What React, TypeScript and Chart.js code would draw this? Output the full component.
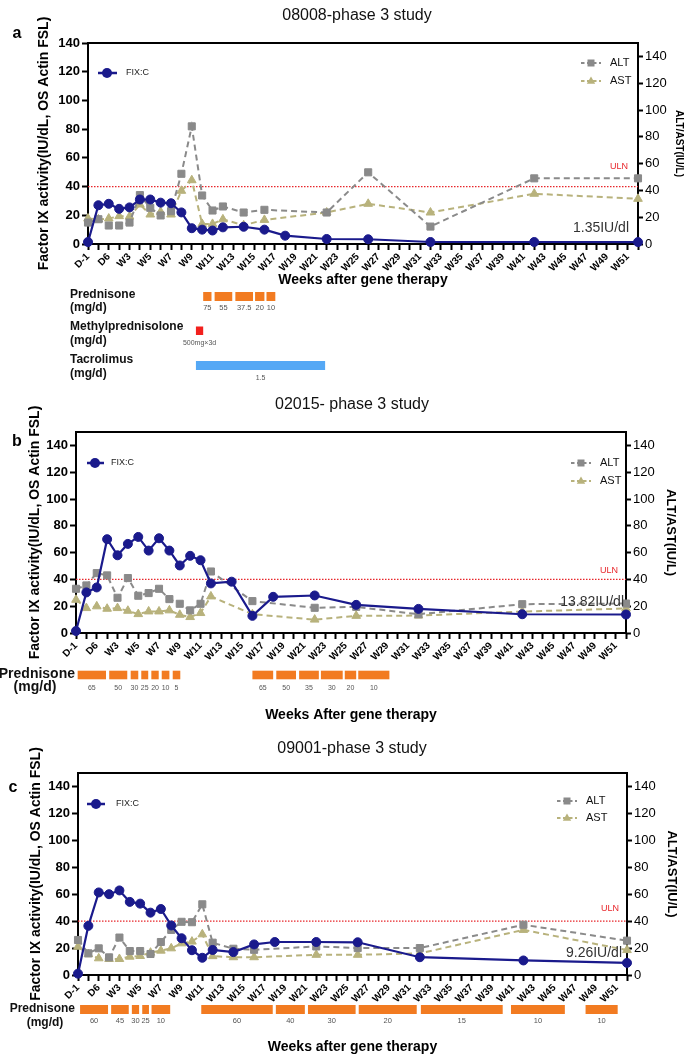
import React, { useEffect, useRef } from 'react';
import { Chart, registerables } from 'chart.js';

Chart.register(...registerables);

const FONT = "'Liberation Sans', Arial, Helvetica, sans-serif";
const NAVY = '#1a1a8c';
const GRAY = '#8a8a8a';
const TAN = '#b8b27c';
const ULN_RED = '#e8262b';
const ORANGE = '#f27b21';
const MP_RED = '#f2201d';
const BLUE = '#55a8f5';

// x-axis: index positions 0..53, labels on every other tick
const X_LABELS = ['D-1', '', 'D6', '', 'W3', '', 'W5', '', 'W7', '', 'W9', '', 'W11', '', 'W13', '', 'W15', '', 'W17', '', 'W19', '', 'W21', '', 'W23', '', 'W25', '', 'W27', '', 'W29', '', 'W31', '', 'W33', '', 'W35', '', 'W37', '', 'W39', '', 'W41', '', 'W43', '', 'W45', '', 'W47', '', 'W49', '', 'W51', ''];
const Y_TICKS = [0, 20, 40, 60, 80, 100, 120, 140];
const ULN_X = [0, 53];
const ULN_Y = [40, 40];

// ---- Panel a : 08008 ----
const A_FIX_X = [0, 1, 2, 3, 4, 5, 6, 7, 8, 9, 10, 11, 12, 13, 15, 17, 19, 23, 27, 33, 43, 53];
const A_FIX_Y = [1.4, 27, 28, 24.5, 25.5, 31, 31, 28.8, 28.4, 22, 11, 10, 9.4, 11.6, 12, 10, 5.8, 3.5, 3.3, 1.4, 1.4, 1.35];
const A_LIV_X = [0, 1, 2, 3, 4, 5, 6, 7, 8, 9, 10, 11, 12, 13, 15, 17, 23, 27, 33, 43, 53];
const A_ALT_Y = [16, 18.5, 13.8, 13.8, 16, 36.5, 27, 21.3, 24.5, 52.4, 87.8, 36.2, 25, 28, 23.5, 25.5, 23.5, 53.5, 13, 49, 49];
const A_AST_Y = [19, 18.4, 19, 20.8, 20.5, 29.5, 22, 24, 22, 39.7, 47.6, 15, 15, 18.4, 14, 18, 23.5, 30, 23.5, 37.5, 33.7];
const A_PRED_START = [11.1, 12.2, 14.2, 16.1, 17.2];
const A_PRED_END = [11.9, 13.9, 15.9, 17.0, 18.05];
const A_PRED_DOSE = ['75', '55', '37.5', '20', '10'];
const A_MP_START = [10.4];
const A_MP_END = [11.1];
const A_MP_DOSE = ['500mg×3d'];
const A_TAC_START = [10.4];
const A_TAC_END = [22.85];
const A_TAC_DOSE = ['1.5'];

// ---- Panel b : 02015 ----
const B_FIX_X = [0, 1, 2, 3, 4, 5, 6, 7, 8, 9, 10, 11, 12, 13, 15, 17, 19, 23, 27, 33, 43, 53];
const B_FIX_Y = [1.5, 30.3, 34, 70, 58, 66.5, 71.7, 61.5, 70.7, 61.5, 50.4, 57.6, 54.3, 37, 38.3, 12.8, 27, 28, 21, 18, 14, 13.8];
const B_LIV_X = [0, 1, 2, 3, 4, 5, 6, 7, 8, 9, 10, 11, 12, 13, 17, 23, 27, 33, 43, 53];
const B_ALT_Y = [33, 35.5, 44.7, 43, 26.3, 41, 27.8, 29.8, 33, 25.3, 21.8, 16.9, 21.8, 45.9, 23.8, 18.8, 19.5, 14, 21.5, 22];
const B_AST_Y = [24.8, 18.6, 19.9, 18.1, 18.6, 16.6, 14.1, 16.1, 16.1, 16.9, 13.6, 11.9, 14.9, 27.3, 14, 10, 12.8, 13, 16, 18.3];
const B_PRED_START = [0.16, 3.2, 5.27, 6.29, 7.26, 8.26, 9.32, 17.0, 19.3, 21.5, 23.6, 25.9, 27.2];
const B_PRED_END = [2.89, 4.94, 6.0, 6.96, 7.97, 9.0, 10.05, 19.0, 21.2, 23.4, 25.7, 27.0, 30.2];
const B_PRED_DOSE = ['65', '50', '30', '25', '20', '10', '5', '65', '50', '35', '30', '20', '10'];

// ---- Panel c : 09001 ----
const C_FIX_X = [0, 1, 2, 3, 4, 5, 6, 7, 8, 9, 10, 11, 12, 13, 15, 17, 19, 23, 27, 33, 43, 53];
const C_FIX_Y = [1, 36.5, 61.3, 60, 62.8, 54.3, 53, 46.3, 49, 36.8, 27.3, 18.4, 12.8, 18.6, 17, 22.7, 24.5, 24.5, 24.3, 13.2, 10.8, 9];
const C_LIV_X = [0, 1, 2, 3, 4, 5, 6, 7, 8, 9, 10, 11, 12, 13, 15, 17, 23, 27, 33, 43, 53];
const C_ALT_Y = [26, 16.1, 19.8, 13.1, 27.8, 17.8, 17.8, 15.6, 24.5, 33.5, 39.5, 39.2, 52.5, 24, 19.5, 18.7, 21.2, 20, 20, 37.3, 25.5];
const C_AST_Y = [21, 15.4, 12.4, 11.9, 11.9, 13.6, 14.1, 16.6, 18.1, 19.8, 23.5, 24.8, 30.2, 14, 13.2, 13.2, 15, 15, 16, 33.5, 18.5];
const C_PRED_START = [0.2, 3.2, 5.2, 6.2, 7.1, 11.9, 19.1, 22.2, 27.1, 33.1, 41.8, 49.0];
const C_PRED_END = [2.9, 4.9, 5.9, 6.85, 8.9, 18.8, 21.9, 26.8, 32.7, 41.0, 47.0, 52.1];
const C_PRED_DOSE = ['60', '45', '30', '25', '10', '60', '40', '30', '20', '15', '10', '10'];

const zip = (xs: number[], ys: number[]) => xs.map((x, i) => ({ x, y: ys[i] }));

type Label = { text: string; x: number; y: number; align: CanvasTextAlign };
type Row = {
  labels: Label[]; labelSize: number; start: number[]; end: number[]; dose: string[];
  color: string; top: number; height: number; doseY: number; doseSize: number;
};
type Cfg = {
  top: number; height: number; left: number; right: number; plotTop: number; plotBottom: number; leftMax: number;
  title: string; titleX: number; titleY: number; letter: string; letterX: number; letterY: number;
  yTitleX: number; rTitleX: number; rTitleSize: number; xTitle: string; xTitleY: number;
  fixX1: number; fixX2: number; fixM: number; fixY: number; fixTextX: number;
  altC: number; altTextX: number; altY: number; astY: number;
  ulnX: number; ulnY: number; valText: string; valX: number; valY: number;
  fix: { x: number; y: number }[]; alt: { x: number; y: number }[]; ast: { x: number; y: number }[];
  rows: Row[];
};

function txt(ctx: CanvasRenderingContext2D, s: string, x: number, y: number, font: string, color: string, align: CanvasTextAlign = 'center', rot = 0) {
  ctx.save();
  ctx.font = font;
  ctx.fillStyle = color;
  ctx.textAlign = align;
  ctx.textBaseline = 'middle';
  ctx.translate(x, y);
  if (rot) ctx.rotate(rot);
  ctx.fillText(s, 0, 0);
  ctx.restore();
}

function makePlugin(c: Cfg) {
  return {
    id: 'deco',
    beforeDatasetsDraw(chart: any) {
      const { ctx, chartArea: ca } = chart;
      ctx.save();
      ctx.strokeStyle = '#000';
      ctx.lineWidth = 2;
      ctx.beginPath();
      ctx.moveTo(ca.left - 1, ca.top);
      ctx.lineTo(ca.right + 1, ca.top);
      ctx.stroke();
      ctx.restore();
    },
    afterDraw(chart: any) {
      const { ctx, chartArea: ca } = chart;
      const xs = chart.scales.x;
      const midY = (ca.top + ca.bottom) / 2;
      txt(ctx, c.title, c.titleX, c.titleY, `16px ${FONT}`, '#111');
      txt(ctx, c.letter, c.letterX, c.letterY, `bold 16px ${FONT}`, '#000');
      txt(ctx, 'Factor IX activity(IU/dL, OS Actin FSL)', c.yTitleX, midY, `bold 14px ${FONT}`, '#000', 'center', -Math.PI / 2);
      txt(ctx, 'ALT/AST(IU/L)', c.rTitleX, midY, `bold ${c.rTitleSize}px ${FONT}`, '#000', 'center', Math.PI / 2);
      txt(ctx, c.xTitle, (ca.left + ca.right) / 2, c.xTitleY, `bold 14px ${FONT}`, '#000');
      // FIX:C legend
      ctx.save();
      ctx.strokeStyle = NAVY; ctx.lineWidth = 2.5;
      ctx.beginPath(); ctx.moveTo(c.fixX1, c.fixY); ctx.lineTo(c.fixX2, c.fixY); ctx.stroke();
      ctx.fillStyle = NAVY;
      ctx.beginPath(); ctx.arc(c.fixM, c.fixY, 5, 0, Math.PI * 2); ctx.fill();
      ctx.restore();
      txt(ctx, 'FIX:C', c.fixTextX, c.fixY, `9px ${FONT}`, '#222', 'left');
      // ALT / AST legend
      ctx.save();
      ctx.lineWidth = 2; ctx.setLineDash([3.5, 2.5]);
      ctx.strokeStyle = GRAY;
      ctx.beginPath(); ctx.moveTo(c.altC - 10, c.altY); ctx.lineTo(c.altC + 10, c.altY); ctx.stroke();
      ctx.strokeStyle = TAN;
      ctx.beginPath(); ctx.moveTo(c.altC - 10, c.astY); ctx.lineTo(c.altC + 10, c.astY); ctx.stroke();
      ctx.setLineDash([]);
      ctx.fillStyle = GRAY;
      ctx.fillRect(c.altC - 3.5, c.altY - 3.5, 7, 7);
      ctx.fillStyle = TAN;
      ctx.beginPath();
      ctx.moveTo(c.altC, c.astY - 4.5); ctx.lineTo(c.altC + 4.2, c.astY + 2.8); ctx.lineTo(c.altC - 4.2, c.astY + 2.8); ctx.closePath(); ctx.fill();
      ctx.restore();
      txt(ctx, 'ALT', c.altTextX, c.altY, `11px ${FONT}`, '#111', 'left');
      txt(ctx, 'AST', c.altTextX, c.astY, `11px ${FONT}`, '#111', 'left');
      // ULN + value
      txt(ctx, 'ULN', c.ulnX, c.ulnY, `9px ${FONT}`, ULN_RED);
      txt(ctx, c.valText, c.valX, c.valY, `14px ${FONT}`, '#333', 'right');
      // treatments
      c.rows.forEach((r) => {
        r.labels.forEach((l) => txt(ctx, l.text, l.x, l.y, `bold ${r.labelSize}px ${FONT}`, '#111', l.align));
        r.start.forEach((s, i) => {
          const x1 = xs.getPixelForValue(s);
          const x2 = xs.getPixelForValue(r.end[i]);
          ctx.save();
          ctx.fillStyle = r.color;
          ctx.fillRect(x1, r.top, x2 - x1, r.height);
          ctx.restore();
          txt(ctx, r.dose[i], (x1 + x2) / 2, r.doseY, `${r.doseSize}px ${FONT}`, '#555');
        });
      });
    },
  };
}

function scales(c: Cfg) {
  const tickFontBold = { family: FONT, size: 13, weight: 'bold' as const };
  return {
    x: {
      type: 'linear' as const, min: 0, max: 53,
      afterBuildTicks: (s: any) => { s.ticks = X_LABELS.map((_, i) => ({ value: i })); },
      afterFit: (s: any) => { s.height = 30; },
      ticks: {
        autoSkip: false, minRotation: 45, maxRotation: 45, padding: 1, color: '#000',
        font: { family: FONT, size: 10, weight: 'bold' as const },
        callback: (v: any) => X_LABELS[Math.round(v)] ?? '',
      },
      grid: { display: true, drawOnChartArea: false, drawTicks: true, tickLength: 6, tickWidth: 2, tickColor: '#000' },
      border: { display: true, color: '#000', width: 2 },
    },
    y: {
      position: 'left' as const, min: 0, max: c.leftMax,
      afterBuildTicks: (s: any) => { s.ticks = Y_TICKS.map((v) => ({ value: v })); },
      afterFit: (s: any) => { s.width = c.left; },
      ticks: { padding: 2, color: '#000', font: tickFontBold },
      grid: { display: true, drawOnChartArea: false, drawTicks: true, tickLength: 6, tickWidth: 2, tickColor: '#000' },
      border: { display: true, color: '#000', width: 2 },
    },
    y2: {
      position: 'right' as const, min: 0, max: 150,
      afterBuildTicks: (s: any) => { s.ticks = Y_TICKS.map((v) => ({ value: v })); },
      afterFit: (s: any) => { s.width = 685 - c.right; },
      ticks: { padding: 2, color: '#000', font: { family: FONT, size: 13 } },
      grid: { display: true, drawOnChartArea: false, drawTicks: true, tickLength: 5, tickWidth: 2, tickColor: '#000' },
      border: { display: true, color: '#000', width: 2 },
    },
  };
}

function Panel({ c }: { c: Cfg }) {
  const ref = useRef<HTMLCanvasElement>(null);
  useEffect(() => {
    if (!ref.current) return;
    const chart = new Chart(ref.current, {
      type: 'line',
      data: {
        datasets: [
          {
            label: 'FIX:C', data: c.fix, yAxisID: 'y', borderColor: NAVY, backgroundColor: NAVY,
            borderWidth: 2.2, pointRadius: 4.5, pointBorderWidth: 1, pointStyle: 'circle', tension: 0, clip: false,
          },
          {
            label: 'ALT', data: c.alt, yAxisID: 'y2', borderColor: GRAY, backgroundColor: GRAY,
            borderWidth: 2, borderDash: [6, 4], pointRadius: 5, pointBorderWidth: 1, pointStyle: 'rect', tension: 0, clip: false,
          },
          {
            label: 'AST', data: c.ast, yAxisID: 'y2', borderColor: TAN, backgroundColor: TAN,
            borderWidth: 2, borderDash: [6, 4], pointRadius: 5, pointBorderWidth: 1, pointStyle: 'triangle', tension: 0, clip: false,
          },
          {
            label: 'ULN', data: zip(ULN_X, ULN_Y), yAxisID: 'y', borderColor: ULN_RED,
            borderWidth: 1.2, borderDash: [1.5, 1.5], pointRadius: 0, tension: 0,
          },
        ],
      },
      options: {
        responsive: false, animation: false, devicePixelRatio: 1,
        layout: { padding: { left: 0, right: 0, top: c.plotTop, bottom: c.height - c.plotBottom - 30 } },
        plugins: { legend: { display: false }, tooltip: { enabled: false }, title: { display: false } },
        scales: scales(c) as any,
      },
      plugins: [makePlugin(c)],
    });
    return () => chart.destroy();
  }, []);
  return (
    <canvas ref={ref} width={685} height={c.height}
      style={{ position: 'absolute', left: 0, top: c.top, width: 685, height: c.height }} />
  );
}

const PANEL_A: Cfg = {
  top: 0, height: 390, left: 88, right: 638, plotTop: 43, plotBottom: 244, leftMax: 140,
  title: '08008-phase 3 study', titleX: 357, titleY: 16, letter: 'a', letterX: 17, letterY: 34,
  yTitleX: 44, rTitleX: 679, rTitleSize: 10, xTitle: 'Weeks after gene therapy', xTitleY: 280,
  fixX1: 98, fixX2: 117, fixM: 107, fixY: 73, fixTextX: 126,
  altC: 591, altTextX: 610, altY: 63, astY: 81,
  ulnX: 619, ulnY: 167, valText: '1.35IU/dl', valX: 629, valY: 228,
  fix: zip(A_FIX_X, A_FIX_Y), alt: zip(A_LIV_X, A_ALT_Y), ast: zip(A_LIV_X, A_AST_Y),
  rows: [
    {
      labels: [{ text: 'Prednisone', x: 70, y: 295, align: 'left' }, { text: '(mg/d)', x: 70, y: 308, align: 'left' }],
      labelSize: 12, start: A_PRED_START, end: A_PRED_END, dose: A_PRED_DOSE, color: ORANGE,
      top: 292, height: 9, doseY: 308, doseSize: 7.5,
    },
    {
      labels: [{ text: 'Methylprednisolone', x: 70, y: 327, align: 'left' }, { text: '(mg/d)', x: 70, y: 341, align: 'left' }],
      labelSize: 12, start: A_MP_START, end: A_MP_END, dose: A_MP_DOSE, color: MP_RED,
      top: 326.5, height: 8.5, doseY: 343, doseSize: 7,
    },
    {
      labels: [{ text: 'Tacrolimus', x: 70, y: 360, align: 'left' }, { text: '(mg/d)', x: 70, y: 374, align: 'left' }],
      labelSize: 12, start: A_TAC_START, end: A_TAC_END, dose: A_TAC_DOSE, color: BLUE,
      top: 361, height: 9, doseY: 378, doseSize: 7,
    },
  ],
};

const PANEL_B: Cfg = {
  top: 390, height: 340, left: 76, right: 626, plotTop: 42, plotBottom: 243, leftMax: 150,
  title: '02015- phase 3 study', titleX: 352, titleY: 15, letter: 'b', letterX: 17, letterY: 52,
  yTitleX: 35, rTitleX: 671, rTitleSize: 13, xTitle: 'Weeks After gene therapy', xTitleY: 325,
  fixX1: 87, fixX2: 104, fixM: 95, fixY: 73, fixTextX: 111,
  altC: 581, altTextX: 600, altY: 73, astY: 91,
  ulnX: 609, ulnY: 181, valText: '13.82IU/dl', valX: 624, valY: 212,
  fix: zip(B_FIX_X, B_FIX_Y), alt: zip(B_LIV_X, B_ALT_Y), ast: zip(B_LIV_X, B_AST_Y),
  rows: [
    {
      labels: [{ text: 'Prednisone', x: 75, y: 284, align: 'right' }, { text: '(mg/d)', x: 35, y: 297, align: 'center' }],
      labelSize: 14, start: B_PRED_START, end: B_PRED_END, dose: B_PRED_DOSE, color: ORANGE,
      top: 280.7, height: 8.6, doseY: 298, doseSize: 7,
    },
  ],
};

const PANEL_C: Cfg = {
  top: 730, height: 325, left: 78, right: 627, plotTop: 43, plotBottom: 245, leftMax: 150,
  title: '09001-phase 3 study', titleX: 352, titleY: 19, letter: 'c', letterX: 13, letterY: 58,
  yTitleX: 36, rTitleX: 672, rTitleSize: 13, xTitle: 'Weeks after gene therapy', xTitleY: 317,
  fixX1: 87, fixX2: 105, fixM: 96, fixY: 74, fixTextX: 116,
  altC: 567, altTextX: 586, altY: 71, astY: 88,
  ulnX: 610, ulnY: 179, valText: '9.26IU/dl', valX: 622, valY: 223,
  fix: zip(C_FIX_X, C_FIX_Y), alt: zip(C_LIV_X, C_ALT_Y), ast: zip(C_LIV_X, C_AST_Y),
  rows: [
    {
      labels: [{ text: 'Prednisone', x: 75, y: 279, align: 'right' }, { text: '(mg/d)', x: 45, y: 293, align: 'center' }],
      labelSize: 12, start: C_PRED_START, end: C_PRED_END, dose: C_PRED_DOSE, color: ORANGE,
      top: 275, height: 9, doseY: 291, doseSize: 7.5,
    },
  ],
};

export default function App() {
  return (
    <div style={{ position: 'absolute', left: 0, top: 0, width: 685, height: 1055, background: '#fff', overflow: 'hidden' }}>
      <Panel c={PANEL_A} />
      <Panel c={PANEL_B} />
      <Panel c={PANEL_C} />
    </div>
  );
}
